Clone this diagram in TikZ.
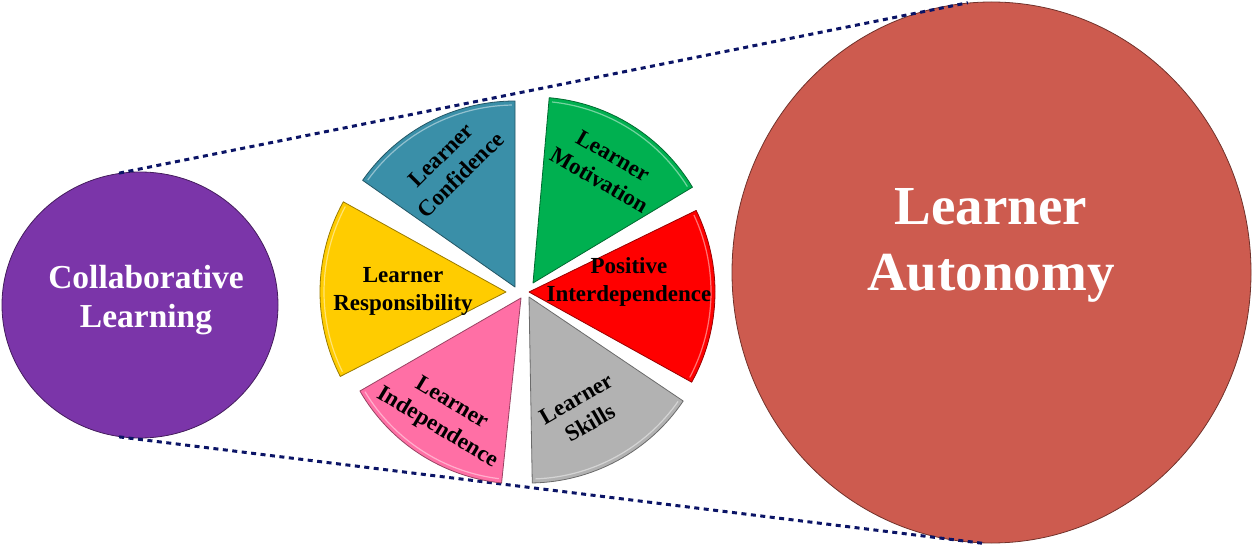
\documentclass[tikz,border=0pt]{standalone}
\usepackage{fontspec}
\setmainfont{Liberation Serif}
\usetikzlibrary{shapes.geometric}
\definecolor{cPurp}{HTML}{7B35A9}
\definecolor{cAuto}{HTML}{CD5B4F}
\definecolor{cNavy}{HTML}{0B1466}
\definecolor{cConf}{HTML}{3A8FA8}
\definecolor{cMot}{HTML}{00B050}
\definecolor{cPos}{HTML}{FF0000}
\definecolor{cSki}{HTML}{B2B2B2}
\definecolor{cInd}{HTML}{FF6FA5}
\definecolor{cRes}{HTML}{FFCC00}
\begin{document}
\begin{tikzpicture}[x=1pt,y=1pt,
  bigcirc/.style={ellipse, inner sep=0pt, draw=#1!55!black, line width=0.8pt, fill=#1},
  link/.style={draw=cNavy, line width=3pt, dash pattern=on 5pt off 4.5pt},
  slice/.style={fill=#1, draw=#1!60!black, line width=0.8pt, line join=round},
  slicetext/.style={font=\fontsize{23}{28}\selectfont\bfseries, align=center, text=black, inner sep=0pt},
  circtext/.style={font=\fontsize{33.5}{39}\selectfont\bfseries, align=center, text=white, inner sep=0pt},
  bigtext/.style={font=\fontsize{55}{66}\selectfont\bfseries, align=center, text=white, inner sep=0pt},
  ]
\useasboundingbox (0,0) rectangle (1252,544);
\node[bigcirc=cPurp, minimum width=276pt, minimum height=266pt] (cl) at (140,239) {};
\node[bigcirc=cAuto, minimum width=519pt, minimum height=541pt] (ca) at (991.5,271.5) {};
\node[circtext] (clt) at (146,244) {Collaborative\\Learning};
\node[bigtext] (cat) at (991,299) {Learner\\Autonomy};
\draw[link] (cl.99) -- (ca.95);
\draw[link] (cl.261) -- (ca.268);
\foreach \n/\px/\py/\a/\b/\c in {Conf/515/257/90/145/cConf, Mot/533/261/31/85/cMot, Pos/529/252/-29/26/cPos, Ski/529/247/-89/-34/cSki, Ind/521/246/-150/-96/cInd, Res/506/252/151/207/cRes}{
  \coordinate (p\n) at (\px,\py);
  \draw[slice=\c] (p\n) -- ++(\a:186) arc[start angle=\a, end angle=\b, radius=186] -- cycle;
  \draw[white, opacity=0.45, line width=1.2pt] ([shift={(\a+1:182)}]p\n) arc[start angle=\a+1, end angle=\b-1, radius=182];
}
\node[slicetext, rotate=45] (tConf) at (451,379) {Learner\\Confidence};
\node[slicetext, rotate=-30] (tMot) at (606,376) {Learner\\Motivation};
\node[slicetext] (tPos) at (629,262) {Positive\\Interdependence};
\node[slicetext, rotate=30] (tSki) at (583,133) {Learner\\Skills};
\node[slicetext, rotate=-31] (tInd) at (444,128) {Learner\\Independence};
\node[slicetext] (tRes) at (403,253) {Learner\\Responsibility};
\end{tikzpicture}
\end{document}
